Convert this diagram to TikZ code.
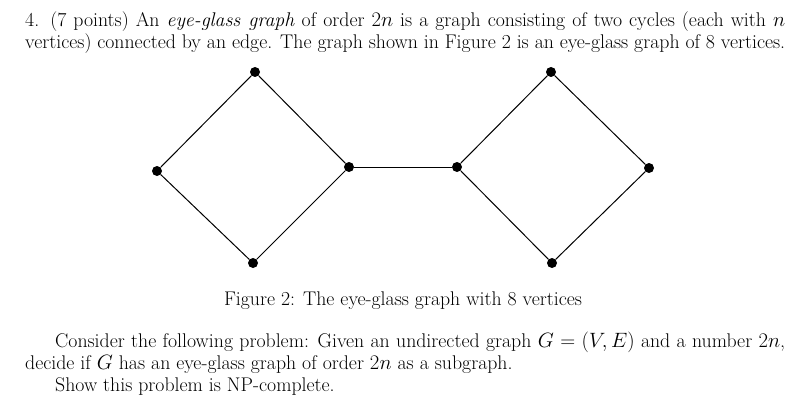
\documentclass[tikz,border=0pt]{standalone}
\begin{document}
\begin{tikzpicture}[x=1pt,y=-1pt,
  vtx/.style={circle,fill=black,inner sep=0pt,minimum size=10pt},
  edge/.style={line width=1pt},
  txt/.style={anchor=north west,inner sep=0pt,text width=760pt,align=justify,font=\fontsize{19.8}{22}\selectfont}]
\useasboundingbox (0,0) rectangle (801,404);
\node[txt] (t1) at (25,11) {4. (7 points) An \emph{eye-glass graph} of order $2n$ is a graph consisting of two cycles (each with $n$\linebreak vertices) connected by an edge. The graph shown in Figure 2 is an eye-glass graph of 8 vertices.};
\node[vtx] (a) at (255,72) {};
\node[vtx] (b) at (157,171) {};
\node[vtx] (c) at (349,167) {};
\node[vtx] (d) at (253,263) {};
\node[vtx] (e) at (457,167) {};
\node[vtx] (f) at (551,72) {};
\node[vtx] (g) at (649,168) {};
\node[vtx] (h) at (552,263) {};
\draw[edge] (a)--(b)--(d)--(c)--(a);
\draw[edge] (c)--(e);
\draw[edge] (e)--(f)--(g)--(h)--(e);
\node[font=\fontsize{19.8}{22}\selectfont,inner sep=0pt] (cap) at (403,301) {Figure 2: The eye-glass graph with 8 vertices};
\node[txt] (t2) at (25,332) {\hspace*{30pt}Consider the following problem: Given an undirected graph $G=(V,E)$ and a number $2n$,\linebreak decide if $G$ has an eye-glass graph of order $2n$ as a subgraph.\\\hspace*{30pt}Show this problem is NP-complete.};
\end{tikzpicture}
\end{document}
